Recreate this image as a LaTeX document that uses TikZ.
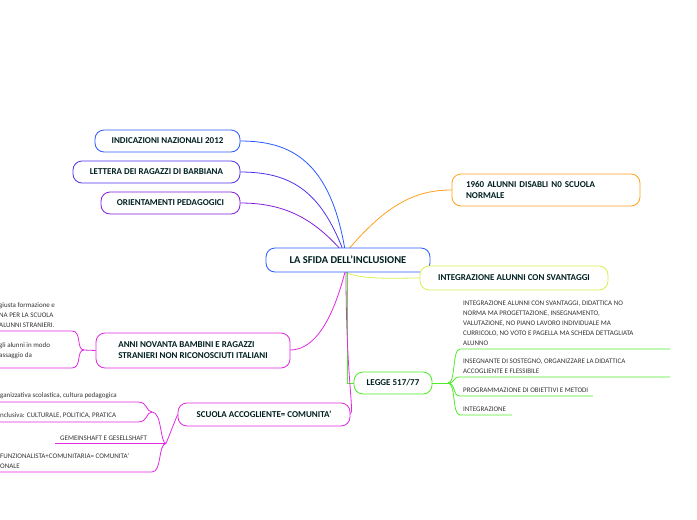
\documentclass[tikz,border=0pt]{standalone}
\usepackage{fontspec}
\setmainfont{Carlito}
\begin{document}
\begin{tikzpicture}[x=1pt,y=-1pt,
 main/.style={draw,rounded corners=9pt,line width=0.8pt,fill=white,font=\bfseries\fontsize{9}{11}\selectfont,text=black!75!teal,align=left,inner sep=0pt},
 leaf/.style={font=\fontsize{7}{10}\selectfont,text=black!80,align=left,anchor=south west,inner sep=1pt},
 cn/.style={line width=0.8pt}]
\useasboundingbox (0,0) rectangle (697,520);
\clip (0,0) rectangle (697,520);
\definecolor{colb}{RGB}{40,90,255}
\definecolor{colb2}{RGB}{80,50,235}
\definecolor{colp}{RGB}{130,30,220}
\definecolor{colm}{RGB}{225,40,225}
\definecolor{colg}{RGB}{80,235,40}
\definecolor{coly}{RGB}{215,240,80}
\definecolor{colo}{RGB}{255,160,30}
% connectors
\coordinate (o) at (345,272);
\draw[cn,colb] (345,250) .. controls (330,160) and (290,141) .. (240,141);
\draw[cn,colb2] (343,250) .. controls (320,190) and (290,172) .. (240,172);
\draw[cn,colp] (341,250) .. controls (310,215) and (280,203) .. (240,203);
\draw[cn,colo] (348,250) .. controls (390,200) and (420,190) .. (452,190);
\draw[cn,coly] (o) .. controls (360,280) and (395,278) .. (420,278);
\draw[cn,colg] (347,272) -- (347,383) -- (354,383);
\draw[cn,colm] (o) .. controls (330,330) and (310,350) .. (290,350);
\draw[cn,colm] (346,272) .. controls (346,380) and (355,414) .. (350,414);
% nodes
\node[main,draw=colb,minimum width=164pt,minimum height=24pt] (c) at (348,260) {\fontsize{10.5}{12}\selectfont LA SFIDA DELL'INCLUSIONE};
\node[main,draw=colb,minimum width=145pt,minimum height=22pt] (a1) at (167.5,141) {INDICAZIONI NAZIONALI 2012};
\node[main,draw=colb2,minimum width=167pt,minimum height=22pt] (a2) at (156.5,172) {LETTERA DEI RAGAZZI DI BARBIANA};
\node[main,draw=colp,minimum width=139pt,minimum height=22pt] (a3) at (170.5,203) {ORIENTAMENTI PEDAGOGICI};
\node[main,draw=colo,minimum width=188pt,minimum height=32pt,text width=160pt] (b1) at (546,190) {1960 ALUNNI DISABLI N0 SCUOLA\\NORMALE};
\node[main,draw=coly,minimum width=188pt,minimum height=24pt] (b2) at (514,278) {INTEGRAZIONE ALUNNI CON SVANTAGGI};
\node[main,draw=colg,minimum width=78pt,minimum height=22pt] (l) at (393,383) {LEGGE 517/77};
\node[main,draw=colm,minimum width=194pt,minimum height=35pt] (n) at (193,350.5) {ANNI NOVANTA BAMBINI E RAGAZZI\\STRANIERI NON RICONOSCIUTI ITALIANI};
\node[main,draw=colm,minimum width=172pt,minimum height=23pt] (s) at (264,414.5) {SCUOLA ACCOGLIENTE= COMUNITA'};
% legge leaves
\draw[cn,colg] (l.east) -- (448,383);
\foreach \y/\r in {349/670,377/670,396/593,415/512}{
 \draw[cn,colg] (448,383) .. controls (456,383) and (452,\y) .. (460,\y) -- (\r,\y);}
\node[leaf] at (462,347) {INTEGRAZIONE ALUNNI CON SVANTAGGI, DIDATTICA NO\\NORMA MA PROGETTAZIONE, INSEGNAMENTO,\\VALUTAZIONE, NO PIANO LAVORO INDIVIDUALE MA\\CURRICOLO, NO VOTO E PAGELLA MA SCHEDA DETTAGLIATA\\ALUNNO};
\node[leaf] at (462,375) {INSEGNANTE DI SOSTEGNO, ORGANIZZARE LA DIDATTICA\\ACCOGLIENTE E FLESSIBILE};
\node[leaf] at (462,394) {PROGRAMMAZIONE DI OBIETTIVI E METODI};
\node[leaf] at (462,413) {INTEGRAZIONE};
% anni leaves
\draw[cn,colm] (n.west) -- (84,350);
\foreach \y in {331,368}{\draw[cn,colm] (84,350) .. controls (76,350) and (82,\y) .. (72,\y) -- (0,\y);}
\node[leaf] at (-2,329) {giusta formazione e\\NA PER LA SCUOLA\\ALUNNI STRANIERI.};
\node[leaf] at (-2,360) {gli alunni in modo\\assaggio da};
% scuola leaves
\draw[cn,colm] (s.west) -- (166,443.5);
\draw[cn,colm] (166,443.5) .. controls (160,443) and (162,412) .. (152,412);
\foreach \y in {402,422}{\draw[cn,colm] (152,412) .. controls (146,412) and (148,\y) .. (138,\y) -- (0,\y);}
\draw[cn,colm] (166,443.5) -- (55,443.5);
\draw[cn,colm] (166,443.5) .. controls (158,444) and (162,472) .. (152,472) -- (0,472);
\node[leaf] at (-1,400) {ganizzativa scolastica, cultura pedagogica};
\node[leaf] at (-1,420) {nclusiva: CULTURALE, POLITICA, PRATICA};
\node[leaf] at (59,441.5) {GEMEINSHAFT E GESELLSHAFT};
\node[leaf] at (-1,470) {FUNZIONALISTA+COMUNITARIA= COMUNITA'\\ONALE};
\end{tikzpicture}
\end{document}
